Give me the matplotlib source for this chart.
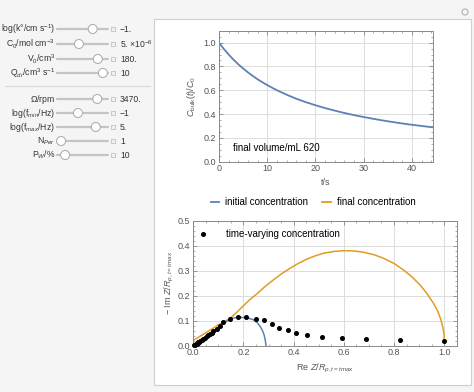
import matplotlib.pyplot as plt
from matplotlib.patches import Rectangle, Circle
from matplotlib.ticker import MultipleLocator

plt.rcParams['font.family'] = ['Liberation Sans', 'DejaVu Sans']
plt.rcParams['mathtext.fontset'] = 'custom'
plt.rcParams['mathtext.rm'] = 'Liberation Sans'
plt.rcParams['mathtext.it'] = 'Liberation Sans:italic'

# ---------------- data ----------------
# top: normalized bulk concentration vs time
t_s = [0, 1, 2, 3, 4, 5, 6, 7, 8, 9, 10, 12, 14, 16, 18, 20, 22, 24, 26, 28, 30,
       32, 34, 36, 38, 40, 42, 44.3]
c_rel = [1.0, 0.947, 0.90, 0.857, 0.818, 0.783, 0.75, 0.72, 0.692, 0.667, 0.643, 0.60,
         0.563, 0.529, 0.50, 0.474, 0.45, 0.429, 0.409, 0.391, 0.375, 0.36, 0.346, 0.333,
         0.321, 0.31, 0.30, 0.289]

# bottom: Nyquist curves
init_re = [0.0, 0.03, 0.06, 0.09, 0.12, 0.146, 0.16, 0.18, 0.2, 0.22, 0.239, 0.255, 0.266,
           0.275, 0.282, 0.287, 0.29]
init_im = [0.0, 0.022, 0.044, 0.066, 0.088, 0.106, 0.111, 0.113, 0.113, 0.11, 0.104, 0.092,
           0.078, 0.062, 0.044, 0.022, 0.0]

final_re = [0.0, 0.05, 0.10, 0.146, 0.175, 0.2, 0.225, 0.253, 0.285, 0.319, 0.352, 0.386,
            0.42, 0.452, 0.485, 0.519, 0.56, 0.6, 0.64, 0.678, 0.72, 0.758, 0.8, 0.838,
            0.872, 0.904, 0.932, 0.957, 0.975, 0.987, 0.995, 1.0, 1.0]
final_im = [0.021, 0.052, 0.083, 0.109, 0.135, 0.16, 0.184, 0.207, 0.236, 0.263, 0.288, 0.31,
            0.33, 0.346, 0.359, 0.37, 0.377, 0.38, 0.379, 0.374, 0.364, 0.35, 0.329, 0.303,
            0.275, 0.243, 0.208, 0.17, 0.137, 0.104, 0.073, 0.044, 0.021]

tv_re = [0.002, 0.006, 0.01, 0.013, 0.017, 0.02, 0.024, 0.027, 0.033, 0.04, 0.046, 0.053,
         0.06, 0.066, 0.073, 0.08, 0.093, 0.106, 0.12, 0.146, 0.177, 0.21, 0.249, 0.282,
         0.3125, 0.343, 0.376, 0.41, 0.455, 0.513, 0.592, 0.689, 0.822, 1.0]
tv_im = [0.001, 0.003, 0.006, 0.008, 0.011, 0.013, 0.015, 0.017, 0.022, 0.027, 0.032, 0.037,
         0.042, 0.047, 0.052, 0.057, 0.068, 0.08, 0.093, 0.108, 0.114, 0.114, 0.108, 0.101,
         0.085, 0.072, 0.061, 0.05, 0.041, 0.035, 0.029, 0.027, 0.023, 0.02]

# control panel
ctrl_labels = [r'log(k°/cm s$^{-1}$)', r'C$_0$/mol cm$^{-3}$', r'V$_0$/cm$^3$', r'Q$_{dr}$/cm$^3$ s$^{-1}$',
               r'$\Omega$/rpm', r'log(f$_{min}$/Hz)', r'log(f$_{max}$/Hz)', r'N$_{Per}$', r'P$_W$/%']
ctrl_values = ['\u22121.', r'5. $\times$10$^{-6}$', '180.', '10', '3470.', '\u22121', '5.', '1', '10']
ctrl_pos = [0.70, 0.43, 0.80, 0.90, 0.79, 0.41, 0.76, 0.08, 0.16]   # knob position along slider
ctrl_y = [29, 44, 59, 73, 99, 113, 127, 141, 155]

blue = '#5E81B5'
orange = '#E19C24'

W, H = 474, 392
fig = plt.figure(figsize=(W / 100, H / 100), dpi=100)
fig.patch.set_facecolor('#f5f5f5')

# background layer in pixel coordinates
bg = fig.add_axes([0, 0, 1, 1], zorder=0)
bg.set_xlim(0, W)
bg.set_ylim(H, 0)
bg.axis('off')
bg.add_patch(Rectangle((154, 19), 317, 366, facecolor='white', edgecolor='#cfcfcf', lw=0.8))
bg.add_patch(Circle((465, 12), 3, facecolor='none', edgecolor='#b0b0b0', lw=0.8))
bg.plot([5, 150], [86, 86], color='#d8d8d8', lw=0.8)

# sliders
x_start, x_end = 57, 108
for lab, val, p, y in zip(ctrl_labels, ctrl_values, ctrl_pos, ctrl_y):
    bg.text(55, y, lab, ha='right', va='center', fontsize=6.2, color='#333333')
    bg.plot([x_start, x_end], [y, y], color='#c4c4c4', lw=1.6, solid_capstyle='round')
    kx = x_start + p * (x_end - x_start)
    bg.add_patch(Circle((kx, y), 4.5, facecolor='white', edgecolor='#a8a8a8', lw=0.7, zorder=3))
    bg.add_patch(Rectangle((111, y - 2), 4, 4, facecolor='#f0f0f0', edgecolor='#b8b8b8', lw=0.5))
    bg.text(120, y, val, ha='left', va='center', fontsize=6.2, color='#333333')


def px_axes(x0, y0, x1, y1):
    return fig.add_axes([x0 / W, 1 - y1 / H, (x1 - x0) / W, (y1 - y0) / H], zorder=1)


def style(ax):
    for s in ax.spines.values():
        s.set_color('#8a8a8a')
        s.set_linewidth(0.7)
    ax.tick_params(which='both', direction='in', top=True, right=True, color='#8a8a8a',
                   labelsize=6.5, labelcolor='#555555', pad=2)
    ax.tick_params(which='major', length=3, width=0.6)
    ax.tick_params(which='minor', length=1.6, width=0.5)
    ax.grid(True, which='major', color='#dcdcdc', lw=0.7)
    ax.set_axisbelow(True)


# top plot
ax1 = px_axes(219, 30.7, 432.7, 161.7)
ax1.plot(t_s, c_rel, color=blue, lw=1.3)
ax1.set_xlim(0, 44.3)
ax1.set_ylim(0, 1.1)
ax1.xaxis.set_major_locator(MultipleLocator(10))
ax1.xaxis.set_minor_locator(MultipleLocator(2))
ax1.yaxis.set_major_locator(MultipleLocator(0.2))
ax1.yaxis.set_minor_locator(MultipleLocator(0.05))
ax1.yaxis.set_major_formatter(lambda v, pos: f'{v:.1f}')
style(ax1)
ax1.text(2.9, 0.118, 'final volume/mL 620', fontsize=7, va='center', ha='left')
bg.text(326, 182, 't/s', ha='center', va='center', fontsize=6.5, color='#555555')
bg.text(192, 96, r'$C_{\mathrm{bulk}}(t)/C_0$', ha='center', va='center', rotation=90,
        fontsize=6.5, color='#555555')

# legend
bg.plot([211, 219], [202, 202], color=blue, lw=1.3)
bg.text(225, 202, 'initial concentration', ha='left', va='center', fontsize=7)
bg.plot([322, 331], [202, 202], color=orange, lw=1.3)
bg.text(337, 202, 'final concentration', ha='left', va='center', fontsize=7)

# bottom plot
ax2 = px_axes(193.3, 220.7, 456.7, 345.7)
ax2.plot(final_re, final_im, color=orange, lw=1.1, zorder=2)
ax2.plot(init_re, init_im, color=blue, lw=1.1, zorder=2)
ax2.plot(tv_re, tv_im, 'o', color='black', ms=2.6, zorder=3, clip_on=False)
ax2.set_xlim(0, 1.05)
ax2.set_ylim(0, 0.5)
ax2.xaxis.set_major_locator(MultipleLocator(0.2))
ax2.xaxis.set_minor_locator(MultipleLocator(0.05))
ax2.yaxis.set_major_locator(MultipleLocator(0.1))
ax2.yaxis.set_minor_locator(MultipleLocator(0.02))
ax2.xaxis.set_major_formatter(lambda v, pos: f'{v:.1f}')
ax2.yaxis.set_major_formatter(lambda v, pos: f'{v:.1f}')
style(ax2)
ax2.plot([0.04], [0.447], 'o', color='black', ms=2.6)
ax2.text(0.13, 0.447, 'time-varying concentration', fontsize=7, va='center', ha='left')
bg.text(325, 368, r'Re $Z/R_{p,t=tmax}$', ha='center', va='center', fontsize=6.5, color='#555555')
bg.text(169, 283, r'$-$ Im $Z/R_{p,t=tmax}$', ha='center', va='center', rotation=90,
        fontsize=6.5, color='#555555')

fig.savefig('out.png', dpi=100, facecolor=fig.get_facecolor())
